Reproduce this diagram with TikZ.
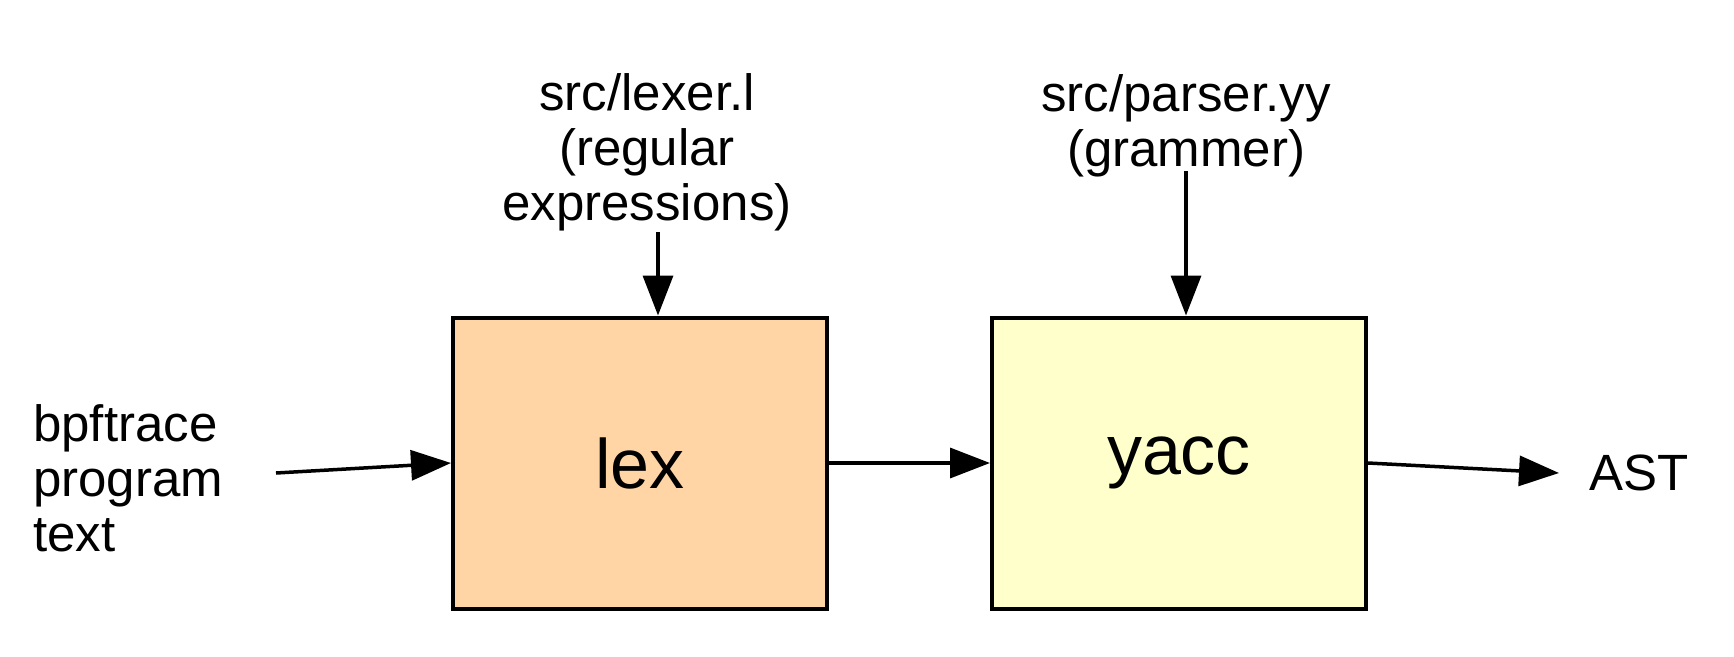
\documentclass[tikz,border=0pt]{standalone}
\usepackage{fontspec}
\setmainfont{Liberation Sans}
\usetikzlibrary{positioning, arrows.meta}
\definecolor{lexfill}{RGB}{255,213,166}
\definecolor{yaccfill}{RGB}{255,255,204}
\begin{document}
\begin{tikzpicture}[x=1pt, y=-1pt,
    stage/.style={draw, line width=4pt, minimum width=374pt, minimum height=291pt,
                  font=\fontsize{70}{80}\selectfont},
    lbl/.style={align=center, font=\fontsize{51}{55}\selectfont, inner sep=0pt},
    flow/.style={line width=3.5pt, -{Triangle[length=40pt, width=30pt]}}]
    \useasboundingbox (0,0) rectangle (1734,656);

    \node (Lex) [stage, fill=lexfill] at (640,463) {lex};
    \node (Yacc) [stage, fill=yaccfill] at (1179,463) {yacc};

    \node (Input) [lbl, align=left, anchor=west] at (33,478) {bpftrace\\program\\text};
    \node (Ast) [lbl, anchor=west] at (1589,473) {AST};
    \node (LexSrc) [lbl] at (647,152) {src/lexer.l\\(regular\\expressions)};
    \node (YaccSrc) [lbl] at (1186,126) {src/parser.yy\\(grammer)};

    \coordinate (InStart) at (276,473);
    \coordinate (AstEnd) at (1559,473);
    \coordinate (LexTop) at (658,232);
    \coordinate (YaccTop) at (1186,171);

    \draw[flow] (InStart) -- (Lex.west);
    \draw[flow] (Lex.east) -- (Yacc.west);
    \draw[flow] (Yacc.east) -- (AstEnd);
    \draw[flow] (LexTop) -- (LexTop |- Lex.north);
    \draw[flow] (YaccTop) -- (YaccTop |- Yacc.north);
\end{tikzpicture}
\end{document}
